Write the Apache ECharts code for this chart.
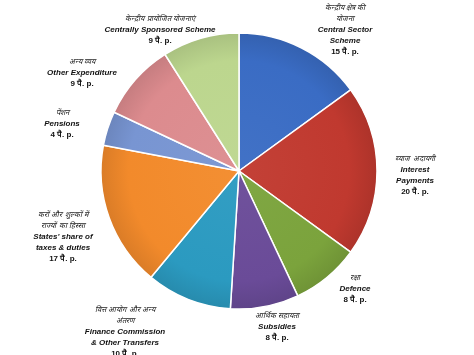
<!DOCTYPE html>
<html><head><meta charset="utf-8">
<script src="https://cdn.jsdelivr.net/npm/echarts@6/dist/echarts.min.js"></script>
<style>html,body{margin:0;padding:0;background:#fff}#c{width:474px;height:355px}</style>
</head><body><div id="c"></div>
<script>
const categoriesEn = ["Central Sector\nScheme","Interest\nPayments","Defence","Subsidies","Finance Commission\n& Other Transfers","States' share of\ntaxes & duties","Pensions","Other Expenditure","Centrally Sponsored Scheme"];
const categoriesHi = ["केन्द्रीय क्षेत्र की\nयोजना","ब्याज अदायगी","रक्षा","आर्थिक सहायता","वित्त आयोग और अन्य\nअंतरण","करों और शुल्कों में\nराज्यों का हिस्सा","पेंशन","अन्य व्यय","केन्द्रीय प्रायोजित योजनाएं"];
const values = [15,20,8,8,10,17,4,9,9];
const unitLabel = "पै. p.";

const colors = ["#3a6cc4","#c0392f","#7ba33c","#6a4b98","#2b9ac0","#f28a2b","#7895d2","#dc8b8e","#bcd68e"];
const labelPos = [[345,30],[415,175],[355,289],[277,327],[125,332],[63,237],[62,124],[82,73],[160,30]];
const CX=239, CY=171, R=138;

function shade(hex, f){
  const n=parseInt(hex.slice(1),16);
  let r=(n>>16)&255,g=(n>>8)&255,b=n&255;
  const m=v=>Math.max(0,Math.min(255,Math.round(f>0? v+(255-v)*f : v*(1+f))));
  return 'rgb('+m(r)+','+m(g)+','+m(b)+')';
}

const data = values.map((v,i)=>({
  value:v,
  name:categoriesEn[i],
  itemStyle:{color:{type:'radial',x:CX,y:CY,r:R,global:true,colorStops:[{offset:0,color:shade(colors[i],0.04)},{offset:0.8,color:colors[i]},{offset:1,color:shade(colors[i],-0.1)}]}}
}));

const chart = echarts.init(document.getElementById('c'),null,{renderer:'canvas'});
chart.setOption({
  backgroundColor:'#fff',
  animation:false,
  series:[{
    type:'pie',
    center:[CX,CY],
    radius:[0,R],
    startAngle:90,
    clockwise:true,
    data:data,
    itemStyle:{borderColor:'#fff',borderWidth:1.5},
    label:{
      show:true,
      position:'outside',
      overflow:'none',
      width:200,
      formatter:p=>'{h|'+categoriesHi[p.dataIndex]+'}\n{e|'+categoriesEn[p.dataIndex]+'}\n{v|'+values[p.dataIndex]+' '+unitLabel+'}',
      rich:{
        h:{fontSize:7.5,fontStyle:'italic',color:'#222',lineHeight:11,align:'center',fontFamily:'sans-serif'},
        e:{fontSize:8,fontStyle:'italic',fontWeight:'bold',color:'#111',lineHeight:11,align:'center',fontFamily:'Liberation Sans, Arial, sans-serif'},
        v:{fontSize:8,fontWeight:'bold',color:'#111',lineHeight:11,align:'center',fontFamily:'Liberation Sans, Arial, sans-serif'}
      }
    },
    labelLine:{show:false},
    labelLayout:function(params){
      const p=labelPos[params.dataIndex];
      return {x:p[0],y:p[1],align:'center',verticalAlign:'middle',hideOverlap:false};
    }
  }]
});
</script></body></html>
